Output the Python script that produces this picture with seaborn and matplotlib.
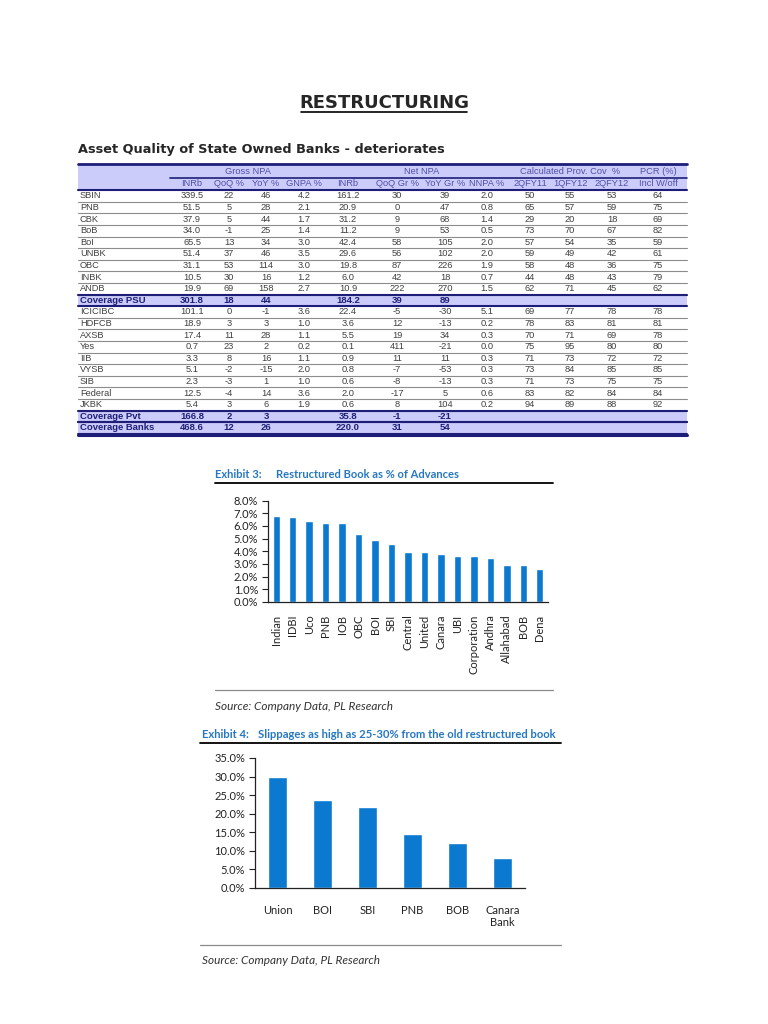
import numpy as np
import pandas as pd
import matplotlib
matplotlib.use("Agg")
import matplotlib.pyplot as plt
from matplotlib import font_manager
from matplotlib.patches import Rectangle
from matplotlib.ticker import PercentFormatter, FixedLocator
import seaborn as sns

# ---- table data ----
banks = ["SBIN", "PNB", "CBK", "BoB", "BoI", "UNBK", "OBC", "INBK", "ANDB", "Coverage PSU",
         "ICICIBC", "HDFCB", "AXSB", "Yes", "IIB", "VYSB", "SIB", "Federal", "JKBK",
         "Coverage Pvt", "Coverage Banks"]
gross_inrb = [339.5, 51.5, 37.9, 34.0, 65.5, 51.4, 31.1, 10.5, 19.9, 301.8,
              101.1, 18.9, 17.4, 0.7, 3.3, 5.1, 2.3, 12.5, 5.4, 166.8, 468.6]
gross_qoq = [22, 5, 5, -1, 13, 37, 53, 30, 69, 18, 0, 3, 11, 23, 8, -2, -3, -4, 3, 2, 12]
gross_yoy = [46, 28, 44, 25, 34, 46, 114, 16, 158, 44, -1, 3, 28, 2, 16, -15, 1, 14, 6, 3, 26]
gnpa_pct = [4.2, 2.1, 1.7, 1.4, 3.0, 3.5, 3.0, 1.2, 2.7, None,
            3.6, 1.0, 1.1, 0.2, 1.1, 2.0, 1.0, 3.6, 1.9, None, None]
net_inrb = [161.2, 20.9, 31.2, 11.2, 42.4, 29.6, 19.8, 6.0, 10.9, 184.2,
            22.4, 3.6, 5.5, 0.1, 0.9, 0.8, 0.6, 2.0, 0.6, 35.8, 220.0]
net_qoq = [30, 0, 9, 9, 58, 56, 87, 42, 222, 39, -5, 12, 19, 411, 11, -7, -8, -17, 8, -1, 31]
net_yoy = [39, 47, 68, 53, 105, 102, 226, 18, 270, 89, -30, -13, 34, -21, 11, -53, -13, 5, 104, -21, 54]
nnpa_pct = [2.0, 0.8, 1.4, 0.5, 2.0, 2.0, 1.9, 0.7, 1.5, None,
            5.1, 0.2, 0.3, 0.0, 0.3, 0.3, 0.3, 0.6, 0.2, None, None]
cov_2qfy11 = [50, 65, 29, 73, 57, 59, 58, 44, 62, None, 69, 78, 70, 75, 71, 73, 71, 83, 94, None, None]
cov_1qfy12 = [55, 57, 20, 70, 54, 49, 48, 48, 71, None, 77, 83, 71, 95, 73, 84, 73, 82, 89, None, None]
cov_2qfy12 = [53, 59, 18, 67, 35, 42, 36, 43, 45, None, 78, 81, 69, 80, 72, 85, 75, 84, 88, None, None]
pcr_woff = [64, 75, 69, 82, 59, 61, 75, 79, 62, None, 78, 81, 78, 80, 72, 85, 75, 84, 92, None, None]

sub_headers = ["INRb", "QoQ %", "YoY %", "GNPA %", "INRb", "QoQ Gr %", "YoY Gr %",
               "NNPA %", "2QFY11", "1QFY12", "2QFY12", "Incl W/off"]
group_headers = ["Gross NPA", "Net NPA", "Calculated Prov. Cov  %", "PCR (%)"]

# ---- chart data ----
ex3_banks = ["Indian", "IDBI", "Uco", "PNB", "IOB", "OBC", "BOI", "SBI", "Central", "United",
             "Canara", "UBI", "Corporation", "Andhra", "Allahabad", "BOB", "Dena"]
ex3_pct = [6.8, 6.7, 6.35, 6.25, 6.2, 5.35, 4.9, 4.55, 3.95, 3.95, 3.8, 3.65, 3.6, 3.5, 2.95, 2.95, 2.6]

ex4_banks = ["Union", "BOI", "SBI", "PNB", "BOB", "Canara\nBank"]
ex4_pct = [30.0, 23.8, 21.8, 14.5, 12.2, 8.0]

BAR = "#0B79D0"
TITLE_BLUE = "#2677C4"
NAVY = "#1E1E78"
LAV = "#CCCCFA"
HEAD_TXT = "#5050A8"

W, H = 768, 1024
sns.set_style("white")
fig = plt.figure(figsize=(W / 100, H / 100), dpi=100)
fig.patch.set_facecolor("white")

bg = fig.add_axes([0, 0, 1, 1])
bg.set_xlim(0, W)
bg.set_ylim(H, 0)
bg.axis("off")

# page title
bg.text(384, 103, "RESTRUCTURING", ha="center", va="center", fontsize=13,
        fontweight="bold", family="DejaVu Sans")
bg.plot([301, 467], [112, 112], color="black", lw=1.2)

bg.text(78, 150, "Asset Quality of State Owned Banks - deteriorates", ha="left", va="center",
        fontsize=9.3, fontweight="bold", family="DejaVu Sans")

# ---- table ----
names = {f.name for f in font_manager.fontManager.ttflist}
if "Liberation Sans Narrow" in names:
    tfont, fs_head, fs_cell, fs_cov = ["Liberation Sans Narrow", "DejaVu Sans"], 8.2, 8.0, 8.2
else:
    tfont, fs_head, fs_cell, fs_cov = ["Liberation Sans", "DejaVu Sans"], 6.7, 6.7, 6.8

tl, tr = 78, 687
col_x = [192, 229, 266, 304, 348, 397, 445, 487, 530, 570, 612, 658]
grp_x = [248, 422, 570, 658]

bg.add_patch(Rectangle((tl, 164), tr - tl, 25, facecolor=LAV, edgecolor="none"))
bg.plot([tl, tr], [164, 164], color=NAVY, lw=2)
bg.plot([170, tr], [177.5, 177.5], color=NAVY, lw=1.2)
bg.plot([tl, tr], [189.5, 189.5], color=NAVY, lw=1.5)
for gx, g in zip(grp_x, group_headers):
    bg.text(gx, 171, g, ha="center", va="center", fontsize=fs_head, color=HEAD_TXT, family=tfont)
for cx, s in zip(col_x, sub_headers):
    bg.text(cx, 184, s, ha="center", va="center", fontsize=fs_head, color=HEAD_TXT, family=tfont)

cols = [gross_inrb, gross_qoq, gross_yoy, gnpa_pct, net_inrb, net_qoq, net_yoy,
        nnpa_pct, cov_2qfy11, cov_1qfy12, cov_2qfy12, pcr_woff]
one_dec = {0, 3, 4, 7}
row0, step = 196, 11.6
for i, name in enumerate(banks):
    y = row0 + i * step
    cover = name.startswith("Coverage")
    if cover:
        bg.add_patch(Rectangle((tl, y - step / 2), tr - tl, step, facecolor=LAV, edgecolor="none"))
        bg.plot([tl, tr], [y - step / 2, y - step / 2], color=NAVY, lw=1.5)
        bg.plot([tl, tr], [y + step / 2, y + step / 2], color=NAVY, lw=1.5)
    else:
        bg.plot([tl, tr], [y + step / 2, y + step / 2], color="#8C8C8C", lw=0.8)
    kw = dict(fontsize=fs_cell, family=tfont, va="center")
    if cover:
        kw.update(color=NAVY, fontweight="bold", fontsize=fs_cov)
    else:
        kw.update(color="#404040")
    bg.text(80, y, name, ha="left", **kw)
    for j, col in enumerate(cols):
        v = col[i]
        if v is None:
            continue
        s = f"{v:.1f}" if j in one_dec else f"{v:d}"
        bg.text(col_x[j], y, s, ha="center", **kw)
bottom = row0 + 20 * step + step / 2 + 1
bg.plot([tl, tr], [bottom, bottom], color=NAVY, lw=2.2)


def px_rect(l, t, r, b):
    return [l / W, 1 - b / H, (r - l) / W, (b - t) / H]


def style_axis(ax, n):
    ax.set_xlim(-0.5, n - 0.5)
    for s in ["top", "right"]:
        ax.spines[s].set_visible(False)
    for s in ["left", "bottom"]:
        ax.spines[s].set_color("#222222")
        ax.spines[s].set_linewidth(0.9)
    ax.xaxis.set_minor_locator(FixedLocator(np.arange(-0.5, n, 1)))
    ax.tick_params(axis="x", which="major", length=0, pad=6)
    ax.tick_params(axis="x", which="minor", length=4, width=0.8, color="#222222", direction="out")
    ax.tick_params(axis="y", length=4, width=0.8, color="#222222", direction="out", left=True, pad=3)
    ax.yaxis.set_major_formatter(PercentFormatter(decimals=1))
    ax.set_xlabel("")
    ax.set_ylabel("")
    ax.grid(False)
    for lab in ax.get_yticklabels() + ax.get_xticklabels():
        lab.set_family(["Lato", "DejaVu Sans"])
        lab.set_fontsize(8)
        lab.set_color("#222222")


LATO = ["Lato", "DejaVu Sans"]

# ---- Exhibit 3 ----
bg.text(215, 475, "Exhibit 3:", ha="left", va="center", fontsize=8, fontweight="bold",
        color=TITLE_BLUE, family=LATO)
bg.text(276, 475, "Restructured Book as % of Advances", ha="left", va="center", fontsize=8,
        fontweight="bold", color=TITLE_BLUE, family=LATO)
bg.plot([215, 553], [483, 483], color="black", lw=1.3)

ax1 = fig.add_axes(px_rect(268, 500.5, 548, 602))
df3 = pd.DataFrame({"bank": ex3_banks, "pct": ex3_pct})
sns.barplot(data=df3, x="bank", y="pct", color=BAR, saturation=1, width=0.45, ax=ax1)
ax1.set_ylim(0, 8)
ax1.set_yticks(np.arange(0, 9, 1))
style_axis(ax1, len(ex3_banks))
ax1.tick_params(axis="x", which="major", rotation=90, pad=9)

bg.plot([215, 553], [690, 690], color="#8A8A8A", lw=0.9)
bg.text(215, 707, "Source: Company Data, PL Research", ha="left", va="center", fontsize=8.5,
        style="italic", color="#333333", family=LATO)

# ---- Exhibit 4 ----
bg.text(202, 734, "Exhibit 4:", ha="left", va="center", fontsize=8.1, fontweight="bold",
        color=TITLE_BLUE, family=LATO)
bg.text(258, 734, "Slippages as high as 25-30% from the old restructured book", ha="left",
        va="center", fontsize=8.1, fontweight="bold", color=TITLE_BLUE, family=LATO)
bg.plot([200, 561], [743, 743], color="black", lw=1.3)

ax2 = fig.add_axes(px_rect(255, 758, 525, 888))
df4 = pd.DataFrame({"bank": ex4_banks, "pct": ex4_pct})
sns.barplot(data=df4, x="bank", y="pct", color=BAR, saturation=1, width=0.44, ax=ax2)
ax2.set_ylim(0, 35)
ax2.set_yticks(np.arange(0, 36, 5))
style_axis(ax2, len(ex4_banks))
ax2.tick_params(axis="x", which="minor", length=3)
ax2.tick_params(axis="x", which="major", pad=12)

bg.plot([200, 561], [945, 945], color="#8A8A8A", lw=0.9)
bg.text(202, 961, "Source: Company Data, PL Research", ha="left", va="center", fontsize=8.5,
        style="italic", color="#333333", family=LATO)

fig.savefig("out.png", dpi=100, facecolor="white")
